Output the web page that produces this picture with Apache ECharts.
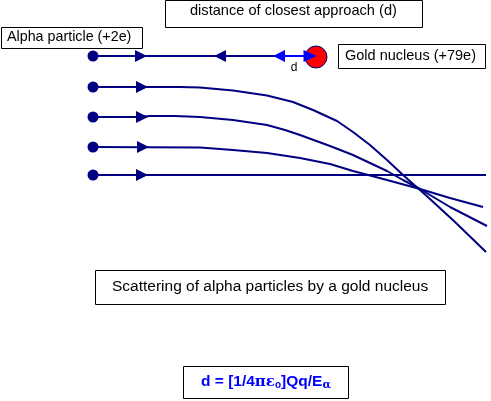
<!DOCTYPE html>
<html>
<head>
<meta charset="utf-8">
<style>html,body{margin:0;padding:0;background:#fff}#chart{width:491px;height:401px}</style>
<script src="https://cdn.jsdelivr.net/npm/echarts@6/dist/echarts.min.js"></script>
</head>
<body>
<div id="chart"></div>
<script>
// tracks, in picture units (x right, y down)
const trackA = [[93, 56], [285, 56]];
const trackB = [[93, 87], [180, 87], [200, 87.5], [233, 90.5], [267, 95.5], [293, 102], [313, 110], [337, 121], [353, 132], [370, 145], [387, 160], [403, 175], [420, 190], [430, 199], [455, 222], [486, 252]];
const trackC = [[93, 117], [137, 117], [150, 116], [175, 116], [200, 117], [233, 120], [267, 125], [285, 130], [300, 135], [330, 146], [353, 155], [387, 171], [403, 180], [420, 189], [450, 207], [487, 226]];
const trackD = [[93, 147], [200, 147.5], [233, 150], [267, 153], [300, 158], [330, 164], [353, 171], [387, 180], [420, 189], [450, 198], [483, 207]];
const trackE = [[93, 175], [486, 175]];
const startDots = [[93, 56], [93, 87], [93, 117], [93, 147], [93, 175]];
const arrowsRight = [[141, 56], [142, 87], [142, 117], [143, 147], [142, 175]];
const arrowsLeft = [[220, 56]];
const nucleus = [[316, 57]];
const dLine = [[285, 56], [305, 56]];
const dArrowLeft = [[279, 56]];
const dArrowRight = [[310, 56]];
// x0, y0, x1, y1, text x, text y, text
const boxes = [
  [1, 27, 142, 48, 7, 37.5, 'Alpha particle (+2e)'],
  [165, 0, 422, 27, 190, 11, 'distance of closest approach (d)'],
  [338, 44, 485, 68, 345, 56, 'Gold nucleus (+79e)'],
  [95, 270, 445, 304, 112, 287, 'Scattering of alpha particles by a gold nucleus'],
  [183, 366, 348, 398, 201, 382, '{b|d = [1/4}{g|πε}{s|o}{b|]Qq/E}{g2|α}']
];
const boxFontSizes = [14.3, 14.6, 14.5, 15.5, 15];
const dLabel = [[294, 68, 'd']];

const NAVY = '#000080';
const BLUE = '#0000ff';
const FONT = '"Liberation Sans", Arial, sans-serif';

function lineSeries(data, color) {
  return {
    type: 'line', data: data, showSymbol: false, silent: true,
    lineStyle: { color: color, width: 2 }, z: 3
  };
}
function symbolSeries(data, symbol, size, rotate, color, z) {
  return {
    type: 'scatter', data: data, symbol: symbol, symbolSize: size, symbolRotate: rotate,
    itemStyle: { color: color, opacity: 1 }, z: z, silent: true
  };
}

const chart = echarts.init(document.getElementById('chart'), null, { renderer: 'canvas' });
chart.setOption({
  animation: false,
  backgroundColor: '#fff',
  grid: { left: 0, right: 0, top: 0, bottom: 0 },
  xAxis: { type: 'value', min: 0, max: 491, show: false },
  yAxis: { type: 'value', min: 0, max: 401, inverse: true, show: false },
  series: [
    lineSeries(trackA, NAVY),
    lineSeries(trackB, NAVY),
    lineSeries(trackC, NAVY),
    lineSeries(trackD, NAVY),
    lineSeries(trackE, NAVY),
    symbolSeries(startDots, 'circle', 11, 0, NAVY, 4),
    symbolSeries(arrowsRight, 'triangle', [12, 12], -90, NAVY, 4),
    symbolSeries(arrowsLeft, 'triangle', [12, 12], 90, NAVY, 4),
    {
      type: 'scatter', data: nucleus, symbol: 'circle', symbolSize: 22, silent: true, z: 4,
      itemStyle: { color: '#ff0000', borderColor: NAVY, borderWidth: 1, opacity: 1 }
    },
    lineSeries(dLine, BLUE),
    symbolSeries(dArrowLeft, 'triangle', [12, 12], 90, BLUE, 5),
    symbolSeries(dArrowRight, 'triangle', [12, 13], -90, BLUE, 5),
    {
      type: 'custom', data: boxes, silent: true, z: 6, clip: false,
      renderItem: function (params, api) {
        const row = boxes[params.dataIndex];
        const a = api.coord([row[0], row[1]]);
        const b = api.coord([row[2], row[3]]);
        const t = api.coord([row[4], row[5]]);
        return {
          type: 'group',
          children: [
            {
              type: 'rect',
              shape: { x: a[0] + 0.5, y: a[1] + 0.5, width: b[0] - a[0], height: b[1] - a[1] },
              style: { fill: '#fff', stroke: '#000', lineWidth: 1 }
            },
            {
              type: 'text', x: t[0], y: t[1], z2: 10,
              style: {
                text: row[6], fill: '#000', font: boxFontSizes[params.dataIndex] + 'px ' + FONT,
                verticalAlign: 'middle', align: 'left',
                rich: {
                  b: { fill: BLUE, font: 'bold 15.5px ' + FONT },
                  g: { fill: BLUE, font: 'bold 15px "DejaVu Serif", serif' },
                  g2: { fill: BLUE, font: 'bold 11px "DejaVu Serif", serif', verticalAlign: 'bottom', padding: [6, 0, 0, 0] },
                  s: { fill: BLUE, font: 'bold 10px ' + FONT, verticalAlign: 'bottom', padding: [6, 0, 0, 0] }
                }
              }
            }
          ]
        };
      }
    },
    {
      type: 'custom', data: dLabel, silent: true, z: 6,
      renderItem: function (params, api) {
        const row = dLabel[params.dataIndex];
        const p = api.coord([row[0], row[1]]);
        return {
          type: 'text', x: p[0], y: p[1],
          style: { text: row[2], fill: '#000', font: '12px ' + FONT, align: 'center', verticalAlign: 'middle' }
        };
      }
    }
  ]
});
</script>
</body>
</html>
